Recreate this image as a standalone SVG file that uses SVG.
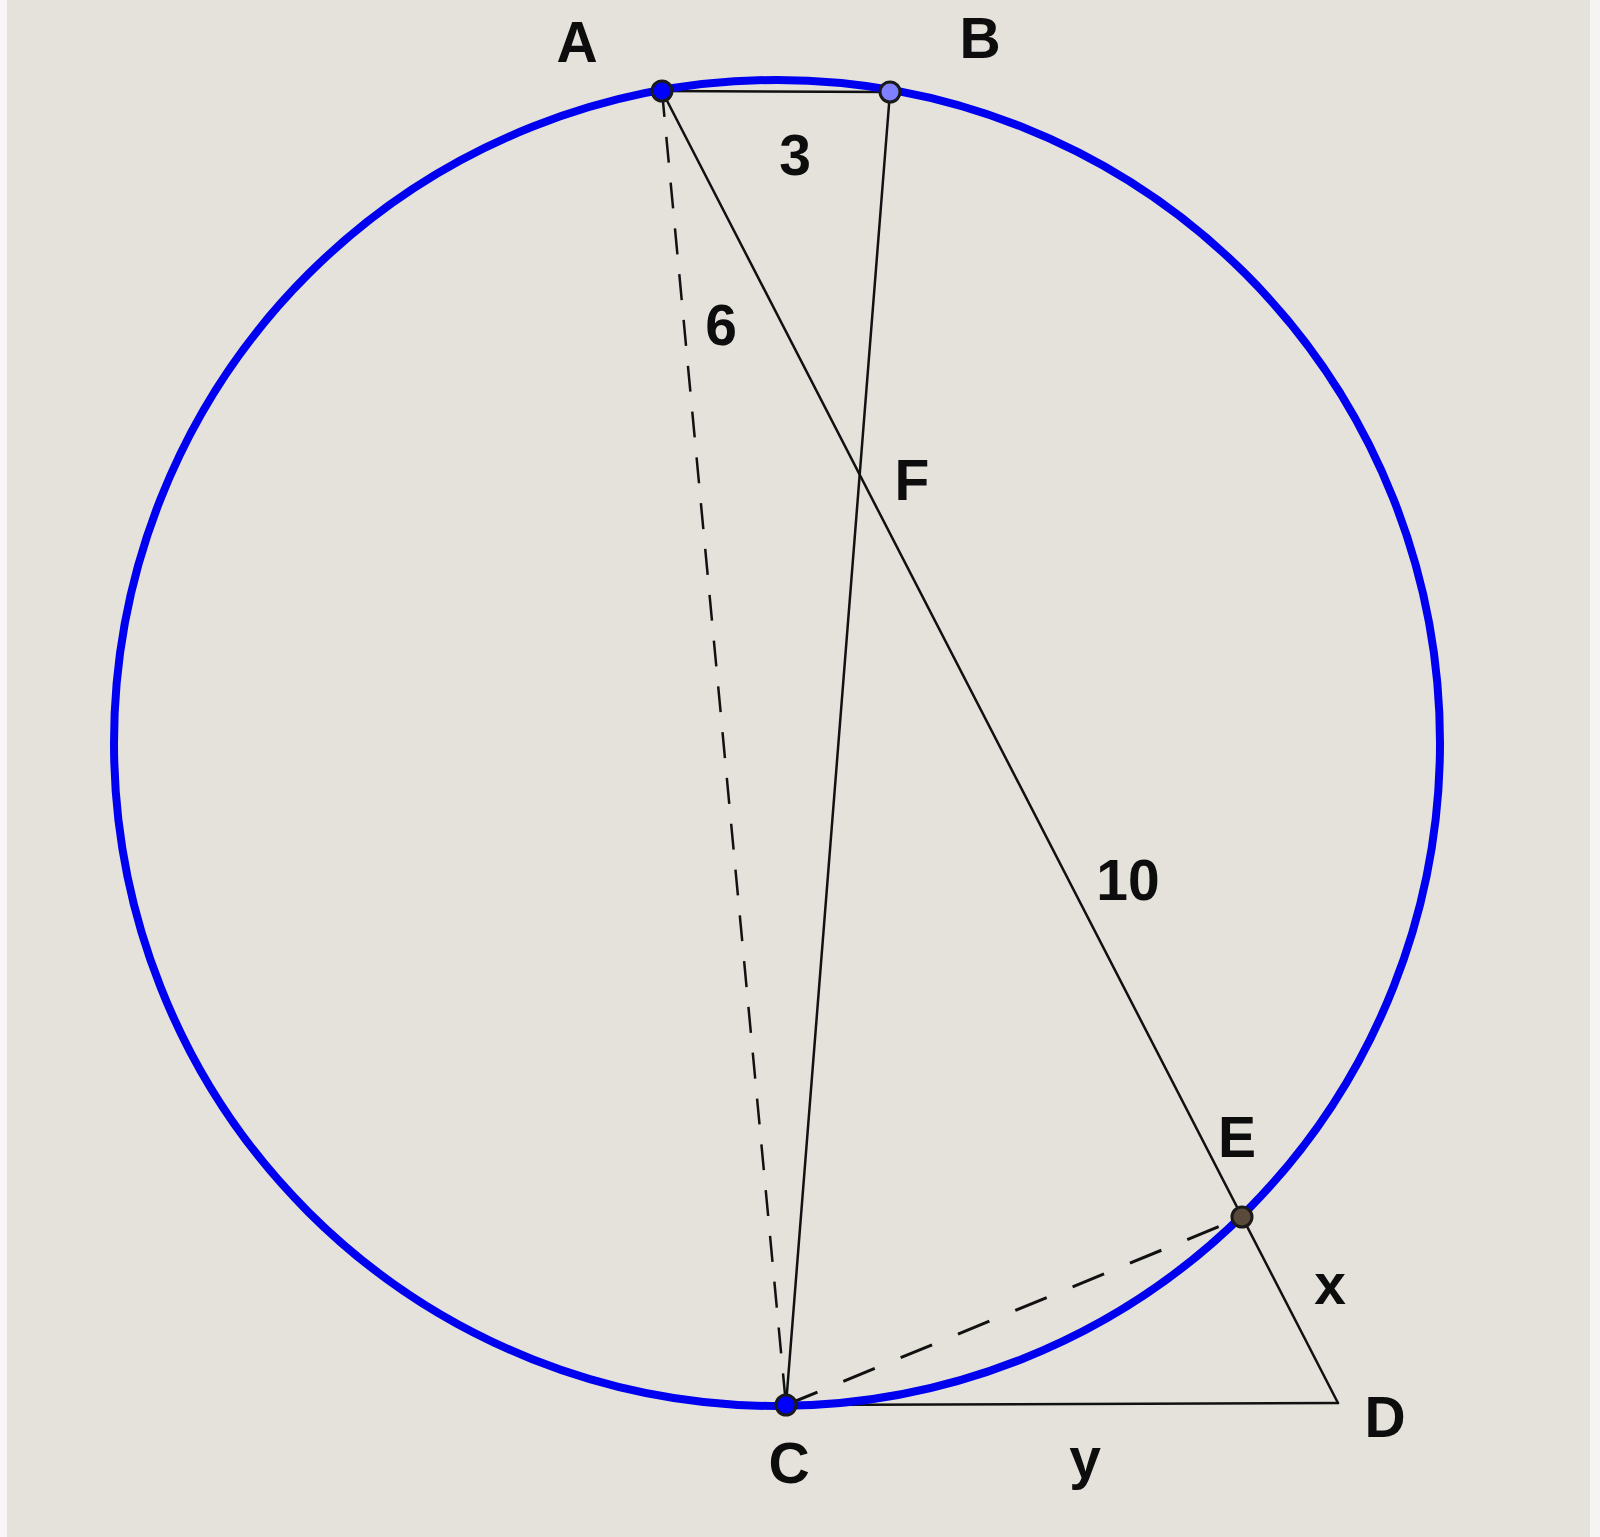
<svg xmlns="http://www.w3.org/2000/svg" width="1600" height="1537" viewBox="0 0 1600 1537">
<style>
.lbl{font-family:"Liberation Sans",Arial,sans-serif;font-weight:bold;font-size:57px;fill:#0d0d0d;text-anchor:middle}
.seg{stroke:#111;stroke-width:2.5;fill:none;stroke-linecap:round}
.dash1{stroke:#111;stroke-width:2.5;fill:none;stroke-dasharray:26 20}
.dash2{stroke:#111;stroke-width:3;fill:none;stroke-dasharray:34 28}
.pt{stroke:#1a1a1a;stroke-width:3}
</style>
<rect x="0" y="0" width="1600" height="1537" fill="#e5e2dc"/>
<rect x="0" y="0" width="7" height="1537" fill="#f7f5f5"/>
<rect x="1590" y="0" width="10" height="1537" fill="#f5f4f2"/>
<g id="connectors">
<line class="dash1" x1="662" y1="91" x2="786" y2="1405"/>
<line class="dash2" x1="786" y1="1405" x2="1242" y2="1217"/>
<line class="seg" x1="662" y1="91" x2="890" y2="92"/>
<line class="seg" x1="890" y1="92" x2="786" y2="1405"/>
<line class="seg" x1="662" y1="91" x2="1338" y2="1403"/>
<line class="seg" x1="786" y1="1405" x2="1338" y2="1403"/>
</g>
<g id="circle">
<circle cx="777" cy="743" r="663" fill="none" stroke="#0000f0" stroke-width="8"/>
</g>
<g id="node-A"><circle class="pt" cx="662" cy="91" r="10" fill="#0000ff"/><text class="lbl" x="577" y="62">A</text></g>
<g id="node-B"><circle class="pt" cx="890" cy="92" r="10" fill="#8080ff"/><text class="lbl" x="980" y="58">B</text></g>
<g id="node-C"><circle class="pt" cx="786" cy="1405" r="10" fill="#0000ff"/><text class="lbl" x="789" y="1483">C</text></g>
<g id="node-D"><text class="lbl" x="1385" y="1437">D</text></g>
<g id="node-E"><circle class="pt" cx="1242" cy="1217" r="10" fill="#5a4a3c"/><text class="lbl" x="1237" y="1157">E</text></g>
<g id="node-F"><text class="lbl" x="912" y="500">F</text></g>
<g id="labels">
<text class="lbl" x="795" y="175">3</text>
<text class="lbl" x="721" y="345">6</text>
<text class="lbl" x="1128" y="900">10</text>
<text class="lbl" x="1330" y="1304">x</text>
<text class="lbl" x="1085" y="1478">y</text>
</g>
</svg>
